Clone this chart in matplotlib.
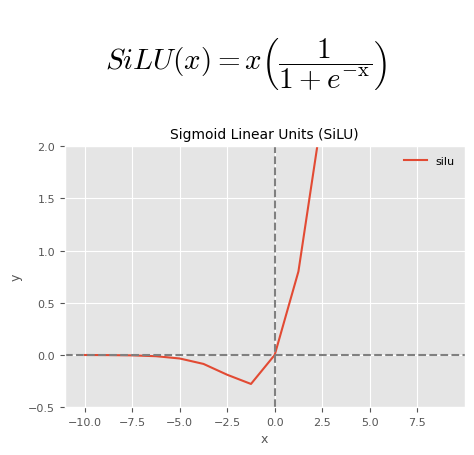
import numpy as np
import matplotlib.pyplot as plt

plt.style.use('ggplot')
plt.rcParams['mathtext.fontset'] = 'cm'

x = [-10.0, -8.75, -7.5, -6.25, -5.0, -3.75, -2.5, -1.25, 0.0, 1.25, 2.5, 3.75, 5.0]
y = [-0.0005, -0.0014, -0.0041, -0.012, -0.034, -0.086, -0.19, -0.278, 0.0, 0.80, 2.31, 3.66, 4.97]
xticks = [-10.0, -7.5, -5.0, -2.5, 0.0, 2.5, 5.0, 7.5]

fig = plt.figure(figsize=(4.74, 4.56), dpi=100)
fig.text(0.52, 0.86, r'$SiLU(x) = x\left(\dfrac{1}{1+e^{\mathrm{-x}}}\right)$',
         ha='center', va='center', fontsize=21)

ax = fig.add_axes([0.137, 0.105, 0.843, 0.572])
ax.plot(x, y, label='silu')
ax.axhline(0, color='gray', linestyle='--')
ax.axvline(0, color='gray', linestyle='--')
ax.set_xlim(-11.05, 10.0)
ax.set_ylim(-0.5, 2.0)
ax.set_xticks(xticks)
ax.set_title('Sigmoid Linear Units (SiLU)', fontsize=10)
ax.set_xlabel('x', fontsize=9)
ax.set_ylabel('y', fontsize=9)
ax.tick_params(labelsize=8)
ax.legend(loc='upper right', fontsize=8, frameon=False)

fig.savefig('out.png', dpi=100)
